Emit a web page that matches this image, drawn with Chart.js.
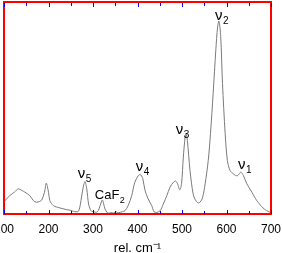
<!DOCTYPE html>
<html>
<head>
<meta charset="utf-8">
<script src="https://cdn.jsdelivr.net/npm/chart.js@4.4.1/dist/chart.umd.min.js"></script>
<style>
    html, body { margin: 0; padding: 0; background: #fff; overflow: hidden; }
    #wrap { position: absolute; left: -30px; top: 0; width: 340px; height: 253px; }
</style>
</head>
<body>
<div id="wrap"><canvas id="ramanChart" width="340" height="253"></canvas></div>
<script>
// Raman spectrum (arbitrary intensity units)
const wavenumbers = [100, 102, 113, 124, 132, 140, 147, 158, 166, 173, 180, 185, 191, 195, 200, 203, 211, 218, 226, 233, 241, 248, 256, 262, 267, 270, 273, 278, 282, 286, 290, 294, 297, 303, 308, 312, 316, 321, 324, 327, 331, 334, 340, 346, 352, 356, 361, 366, 372, 379, 387, 394, 402, 406, 409, 412, 417, 424, 432, 437, 443, 451, 458, 466, 473, 481, 486, 490, 495, 499, 503, 507, 509, 512, 518, 525, 530, 536, 541, 546, 552, 559, 564, 570, 576, 580, 583, 587, 591, 597, 602, 608, 615, 620, 624, 628, 632, 635, 638, 645, 651, 657, 663, 668, 674, 679, 685, 690, 695, 700];
const intensity = [11.7, 13.3, 18.3, 22, 25, 23.5, 21.7, 18.3, 13.3, 11.7, 12.5, 14, 21.7, 30.7, 21.7, 13.3, 8.3, 7, 6, 5.2, 4.3, 3.8, 2.7, 2.2, 2.7, 6, 13.3, 26.7, 32.3, 25, 10, 4.5, 2.7, 2, 1.7, 3.5, 8.3, 14, 10, 5, 2, 0.7, 1.3, 1, 2.2, 1, 1.7, 2.3, 3.3, 8.3, 18.3, 31.7, 38.3, 39.3, 38, 35, 23.3, 15, 8.3, 2.3, 1.5, 3.3, 10, 18.3, 26.7, 31.7, 32.7, 30, 24, 30, 56.7, 76.7, 80, 73.3, 43.3, 20, 14, 11, 12, 16, 30, 53.3, 80, 120, 163.3, 186, 192, 176.7, 130, 80, 53.3, 43.3, 40, 38.5, 38, 39.5, 41.7, 40.5, 38.3, 30.7, 26, 21.7, 17, 13.3, 10, 7.3, 5, 3.3, 2.3, 1.3];
const tickValues = [100, 200, 300, 400, 500, 600, 700];

// peak labels: main text, subscript, anchor in data units
const peakLabels = [
    { text: 'ν', sub: '5', x: 266, y: 36 },
    { text: 'CaF', sub: '2', x: 304, y: 15, small: true },
    { text: 'ν', sub: '4', x: 396, y: 43 },
    { text: 'ν', sub: '3', x: 486, y: 80 },
    { text: 'ν', sub: '2', x: 574, y: 193 },
    { text: 'ν', sub: '1', x: 626, y: 45 }
];

const FONT = '"Liberation Sans", Arial, sans-serif';

const frameAndLabels = {
    id: 'frameAndLabels',
    afterDraw(chart) {
        const c = chart.ctx;
        const a = chart.chartArea;
        const x = chart.scales.x;
        const y = chart.scales.y;
        c.save();
        c.strokeStyle = 'red';
        c.lineWidth = 2;
        c.strokeRect(a.left, a.top, a.right - a.left, a.bottom - a.top);

        c.fillStyle = 'blue';
        for (let v = 100; v <= 700; v += 50) {
            const px = Math.round(x.getPixelForValue(v));
            const len = v % 100 === 0 ? 4 : 3;
            c.fillRect(px, a.bottom - len, 1, len);
            c.fillRect(px, a.top + 1, 1, len);
        }

        c.fillStyle = '#000';
        c.textBaseline = 'alphabetic';
        c.textAlign = 'left';
        peakLabels.forEach(p => {
            const px = x.getPixelForValue(p.x);
            const py = y.getPixelForValue(p.y);
            c.font = (p.small ? '13px ' : '15px ') + FONT;
            c.fillText(p.text, px, py);
            const w = c.measureText(p.text).width;
            c.font = (p.small ? '9px ' : '10px ') + FONT;
            c.fillText(p.sub, px + w + 0.5, py + 4);
        });
        c.restore();
    }
};

const ramanChart = new Chart(document.getElementById('ramanChart'), {
    type: 'line',
    data: {
        datasets: [{
            data: wavenumbers.map((w, i) => ({ x: w, y: intensity[i] })),
            borderColor: '#7a7a7a',
            borderWidth: 1,
            pointRadius: 0,
            tension: 0.3,
            fill: false
        }]
    },
    options: {
        responsive: false,
        animation: false,
        layout: { padding: { left: 34, right: 39, top: 2, bottom: -3 } },
        plugins: { legend: { display: false }, tooltip: { enabled: false } },
        scales: {
            x: {
                type: 'linear',
                min: 100,
                max: 700,
                afterBuildTicks: scale => { scale.ticks = tickValues.map(v => ({ value: v })); },
                grid: { display: false, drawTicks: false },
                border: { display: false },
                ticks: { color: '#000', padding: 8, font: { family: FONT, size: 12 } },
                title: {
                    display: true,
                    text: 'rel. cm⁻¹',
                    color: '#000',
                    font: { family: FONT, size: 13 },
                    padding: { top: -4, bottom: 0 }
                }
            },
            y: {
                display: false,
                min: 0,
                max: 211
            }
        }
    },
    plugins: [frameAndLabels]
});
</script>
</body>
</html>
